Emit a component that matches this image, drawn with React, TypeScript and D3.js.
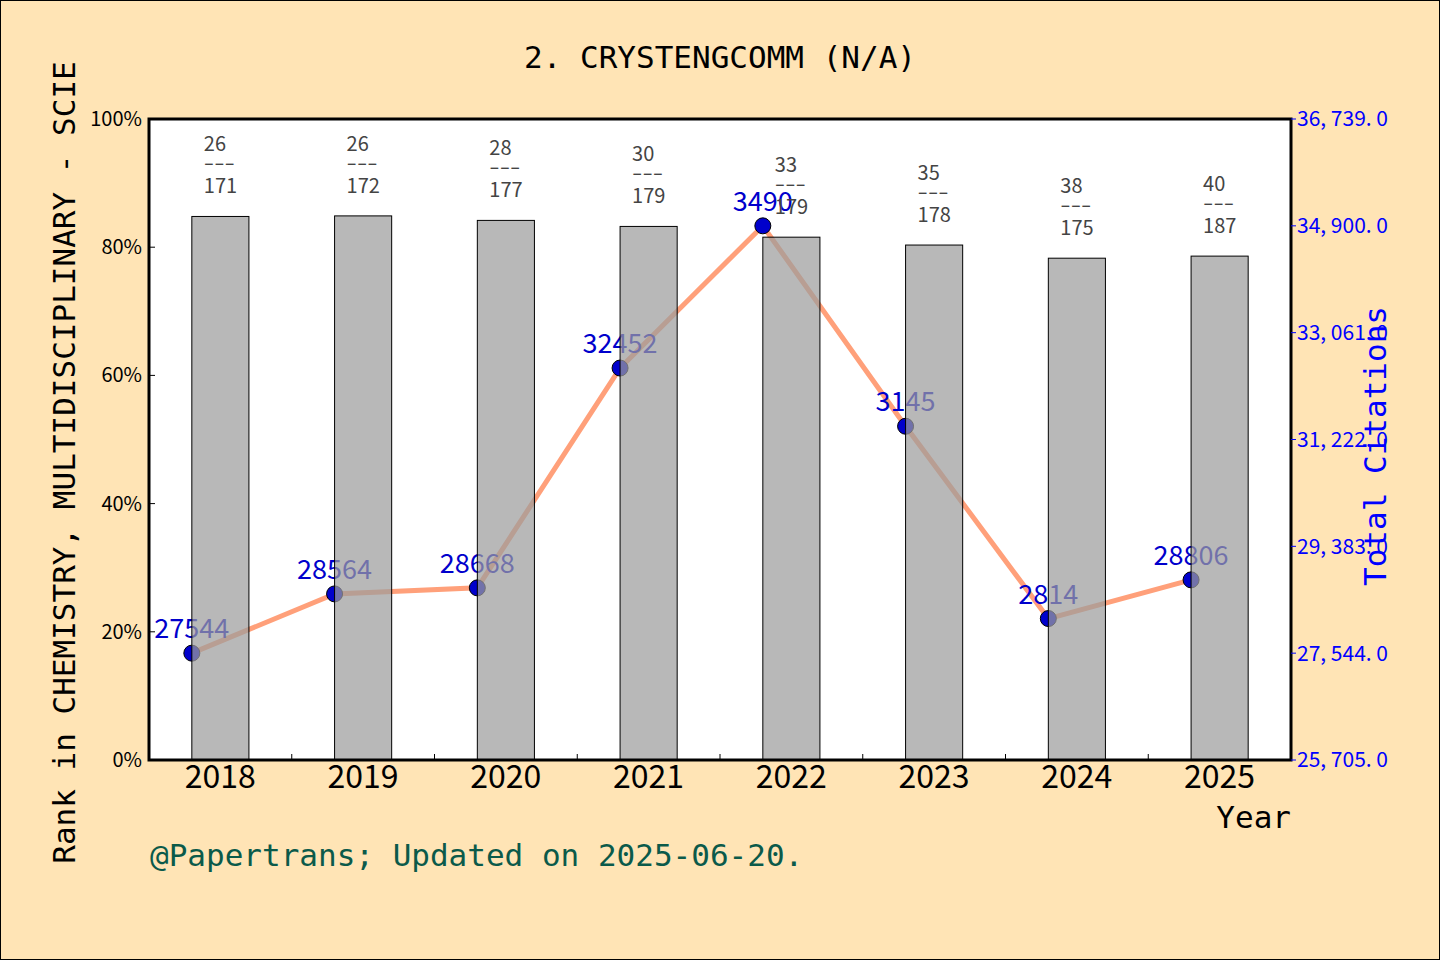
import * as d3 from 'd3'

const years = ['2018', '2019', '2020', '2021', '2022', '2023', '2024', '2025']
const ranks = [26, 26, 28, 30, 33, 35, 38, 40]
const totals = [171, 172, 177, 179, 179, 178, 175, 187]
const citations = [27544, 28564, 28668, 32452, 34900, 31450, 28140, 28806]
const citationLabels = ['27544', '28564', '28668', '32452', '3490', '3145', '2814', '28806']
const pctTicks = [0, 0.2, 0.4, 0.6, 0.8, 1]
const citeTicks = [25705, 27544, 29383, 31222, 33061, 34900, 36739]

const width = 1440
const height = 960
const left = 149
const right = 1291
const top = 119
const bottom = 760

const mono = "'DejaVu Sans Mono', monospace"
const sans = "'Noto Sans CJK SC', 'Noto Sans', sans-serif"

export default function App() {
  const x = d3.scaleBand<string>().domain(years).range([left, right]).padding(0)
  const y = d3.scaleLinear().domain([0, 1]).range([bottom, top])
  const y2 = d3.scaleLinear().domain([25705, 36739]).range([bottom, top])
  const barW = x.bandwidth() * 0.4
  const cx = (yr: string) => (x(yr) ?? 0) + x.bandwidth() / 2
  const px = (yr: string) => cx(yr) - barW / 2
  const pct = ranks.map((r, i) => 1 - r / totals[i])

  const line = d3
    .line<number>()
    .x((_, i) => px(years[i]))
    .y((d) => y2(d))

  const fmt = d3.format(',.1f')
  const citeLabel = (v: number) => fmt(v).replace(',', ', ').replace('.', '. ')

  return (
    <svg
      width={width}
      height={height}
      style={{ position: 'absolute', left: 0, top: 0 }}
    >
      <rect x={0.5} y={0.5} width={width - 1} height={height - 1} fill="#ffe4b5" stroke="#000" />
      <rect x={left} y={top} width={right - left} height={bottom - top} fill="#fff" />

      {/* citations line */}
      <path d={line(citations) ?? ''} fill="none" stroke="#ffa07a" strokeWidth={5} />
      {citations.map((c, i) => (
        <circle key={i} cx={px(years[i])} cy={y2(c)} r={8} fill="#0000cc" stroke="#000" strokeWidth={1} />
      ))}
      {citations.map((c, i) => (
        <text
          key={i}
          x={px(years[i])}
          y={y2(c) - 15}
          textAnchor="middle"
          fontFamily={sans}
          fontSize={27}
          fill="#0000cc"
        >
          {citationLabels[i]}
        </text>
      ))}

      {/* bars */}
      {pct.map((p, i) => (
        <rect
          key={i}
          x={px(years[i])}
          y={y(p)}
          width={barW}
          height={y(0) - y(p)}
          fill="rgb(156,156,156)"
          fillOpacity={0.72}
          stroke="#000"
          strokeWidth={1}
        />
      ))}

      {/* rank annotations */}
      {pct.map((p, i) => {
        const tx = px(years[i]) + 12
        const ty = y(p)
        return (
          <g key={i} fontFamily={sans} fontSize={20} fill="#444">
            <text x={tx} y={ty - 65}>{ranks[i]}</text>
            <text x={tx} y={ty - 46} textLength={31} lengthAdjust="spacingAndGlyphs">---</text>
            <text x={tx} y={ty - 23}>{totals[i]}</text>
          </g>
        )
      })}

      {/* frame */}
      <rect x={left} y={top} width={right - left} height={bottom - top} fill="none" stroke="#000" strokeWidth={3} />

      {/* left axis */}
      {pctTicks.map((t) => (
        <g key={t}>
          <line x1={left} x2={left + 6} y1={y(t)} y2={y(t)} stroke="#000" strokeWidth={1} />
          <text
            x={left - 7}
            y={y(t)}
            dy="0.35em"
            textAnchor="end"
            fontFamily={sans}
            fontSize={20}
            fill="#000"
          >
            {d3.format('.0%')(t)}
          </text>
        </g>
      ))}

      {/* right axis */}
      {citeTicks.map((t) => (
        <g key={t}>
          <line x1={right} x2={right + 5} y1={y2(t)} y2={y2(t)} stroke="#0000ff" strokeWidth={1} />
          <text
            x={right + 6}
            y={y2(t)}
            dy="0.35em"
            fontFamily={sans}
            fontSize={21}
            fill="#0000ff"
          >
            {citeLabel(t)}
          </text>
        </g>
      ))}

      {/* bottom axis */}
      {years.slice(1).map((yr) => (
        <line key={yr} x1={x(yr)} x2={x(yr)} y1={bottom} y2={bottom - 6} stroke="#000" strokeWidth={1} />
      ))}
      {years.map((yr) => (
        <text key={yr} x={cx(yr)} y={788} textAnchor="middle" fontFamily={sans} fontSize={32} fill="#000">
          {yr}
        </text>
      ))}

      {/* titles */}
      <text x={(left + right) / 2} y={68} textAnchor="middle" fontFamily={mono} fontSize={31} fill="#000">
        2. CRYSTENGCOMM (N/A)
      </text>
      <text x={right} y={828} textAnchor="end" fontFamily={mono} fontSize={31} fill="#000">
        Year
      </text>
      <text
        transform={`translate(75,${(55 + 870) / 2}) rotate(-90)`}
        textAnchor="middle"
        fontFamily={mono}
        fontSize={31}
        fill="#000"
      >
        Rank in CHEMISTRY, MULTIDISCIPLINARY - SCIE
      </text>
      <text
        transform={`translate(1386,446) rotate(-90)`}
        textAnchor="middle"
        fontFamily={mono}
        fontSize={31}
        fill="#0000ff"
      >
        Total Citations
      </text>
      <text x={150} y={866} fontFamily={mono} fontSize={31} fill="#0b5a4a">
        @Papertrans; Updated on 2025-06-20.
      </text>
    </svg>
  )
}
